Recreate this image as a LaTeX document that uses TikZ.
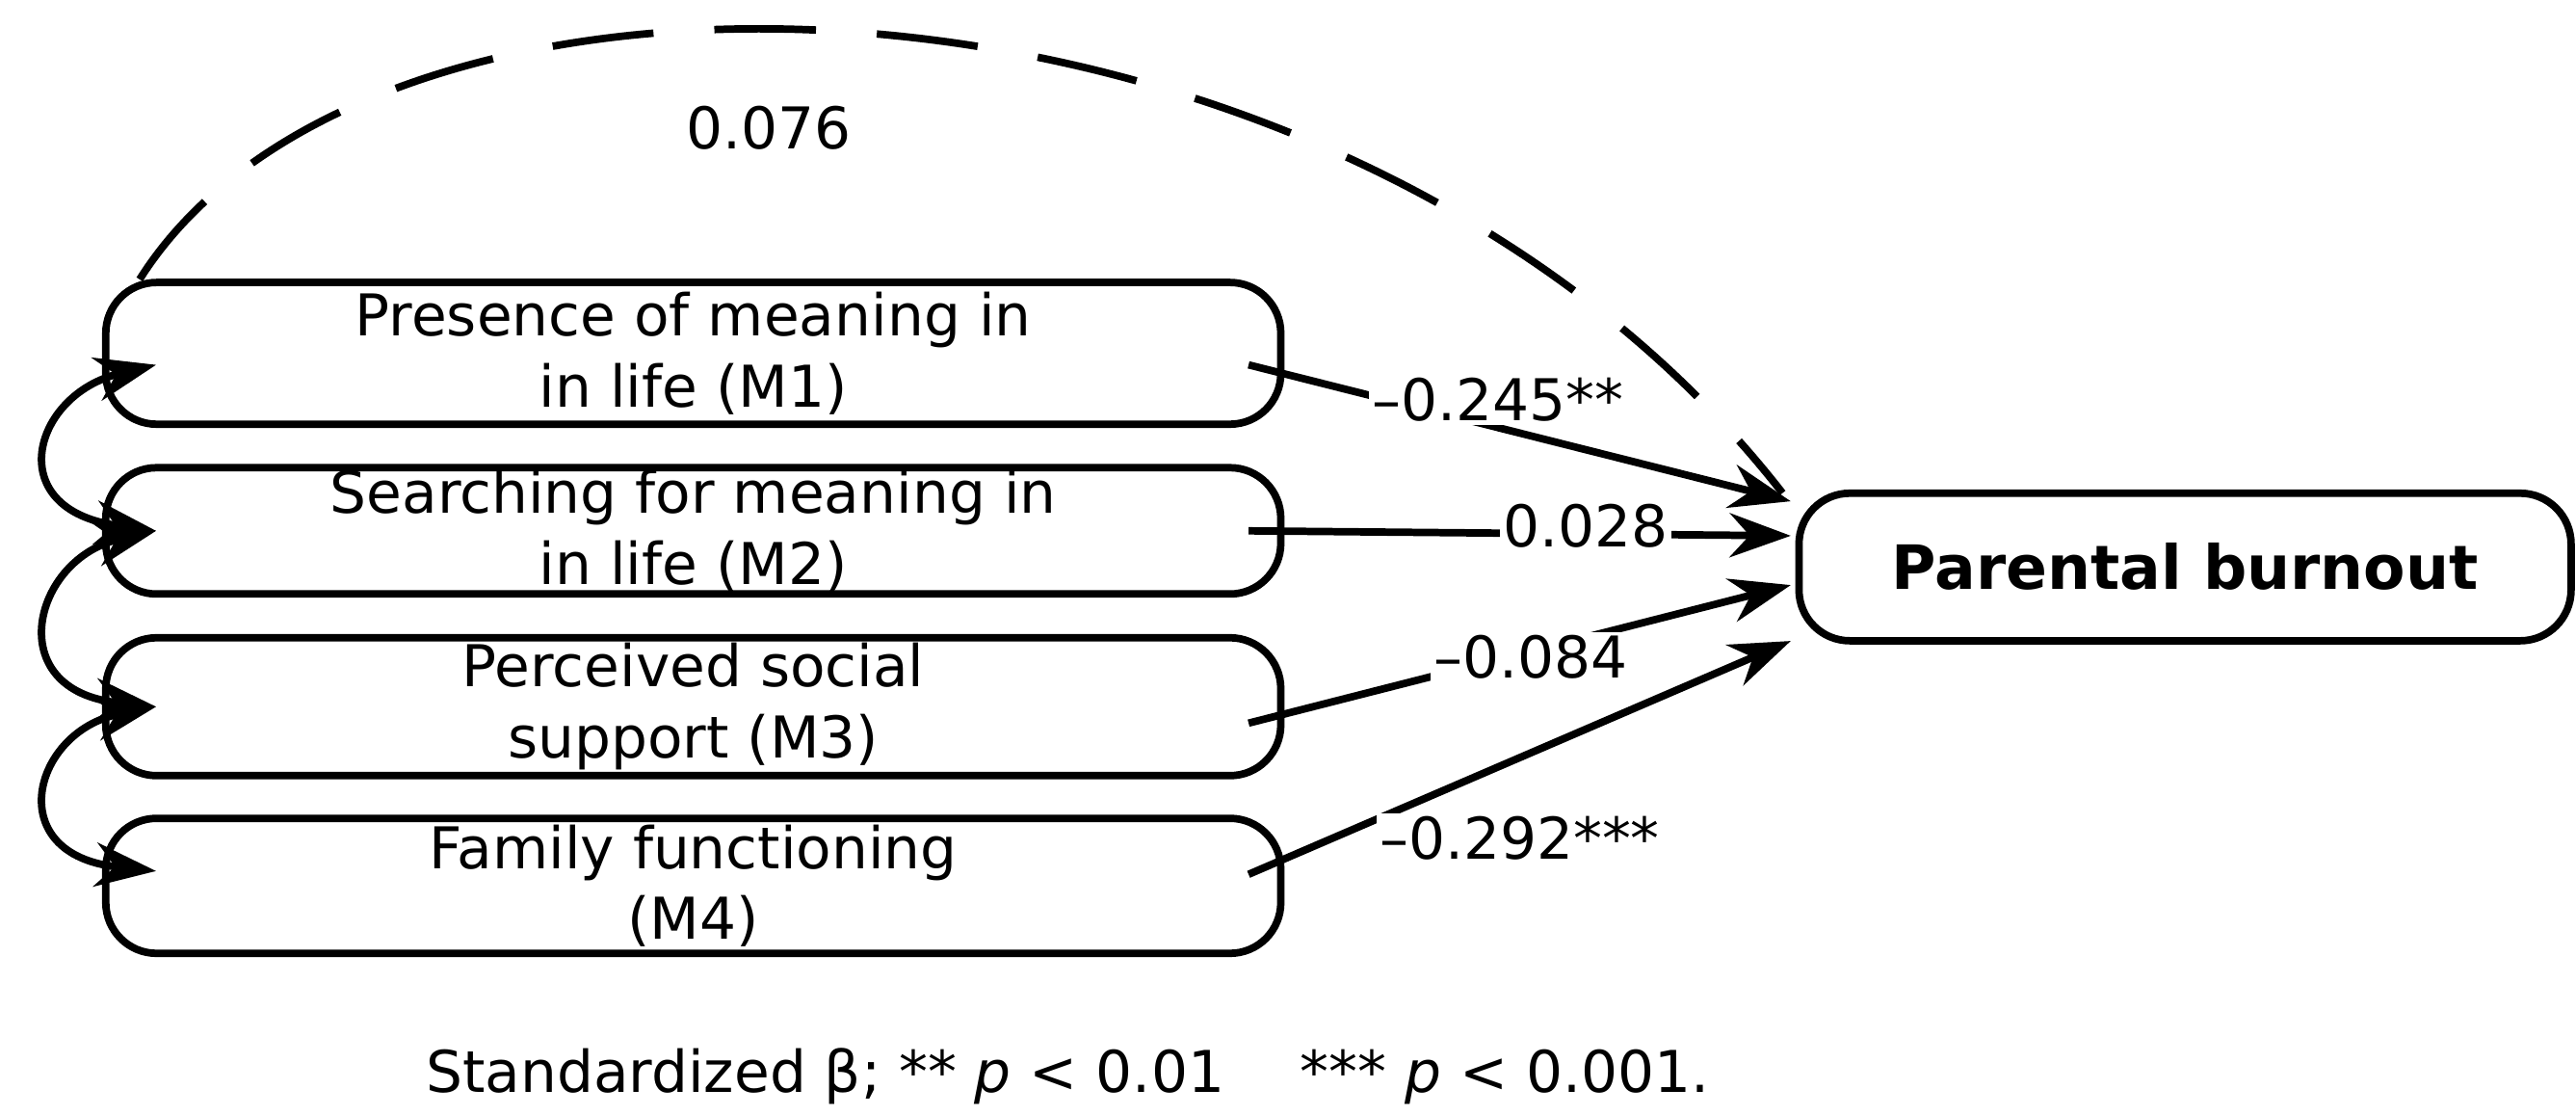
\documentclass[tikz,border=0pt]{standalone}
\usepackage{fontspec}
\setmainfont{DejaVu Sans}
\usetikzlibrary{arrows.meta}
\begin{document}
\begin{tikzpicture}[x=0.01705cm,y=-0.01705cm,
  box/.style={draw,line width=2.2pt,rounded corners=15pt,inner sep=0pt,align=center,font=\fontsize{17}{21}\selectfont},
  path/.style={line width=2.2pt,-{Stealth[length=18pt,width=13pt]}},
  lab/.style={fill=white,inner sep=1pt,font=\fontsize{17}{21}\selectfont},
  cov/.style={line width=2.2pt,{Stealth[length=18pt,width=13pt]}-{Stealth[length=18pt,width=13pt]}}]
\useasboundingbox (0,0) rectangle (1568,679);
\node[box,minimum width=12.19cm,minimum height=1.47cm] (m1) at (422,215) {Presence of meaning in\\in life (M1)};
\node[box,minimum width=12.19cm,minimum height=1.31cm] (m2) at (422,323) {Searching for meaning in\\in life (M2)};
\node[box,minimum width=12.19cm,minimum height=1.43cm] (m3) at (422,430) {Perceived social\\support (M3)};
\node[box,minimum width=12.19cm,minimum height=1.40cm] (m4) at (422,539) {Family functioning\\(M4)};
\node[box,minimum width=8.01cm,minimum height=1.53cm,font=\fontsize{18}{21}\selectfont\bfseries] (pb) at (1330,345) {Parental burnout};
\coordinate (t1) at (1090,305);
\coordinate (t2) at (1090,326);
\coordinate (t3) at (1090,356);
\coordinate (t4) at (1090,390);
\coordinate (s0) at (85,170);
\draw[line width=2.2pt,dash pattern=on 30pt off 18pt] (s0) .. controls (230,-60) and (820,-40) .. (1085,300);
\node[lab,fill=none] at (468,78) {0.076};
\coordinate (a1) at (760,222);
\coordinate (a2) at (760,323);
\coordinate (a3) at (760,440);
\coordinate (a4) at (760,532);
\draw[path] (a1) -- (t1);
\node[lab] at (912,243) {–0.245**};
\draw[path] (a2) -- (t2);
\node[lab] at (965,320) {0.028};
\draw[path] (a3) -- (t3);
\node[lab] at (932,400) {–0.084};
\draw[path] (a4) -- (t4);
\node[lab] at (925,510) {–0.292***};
\coordinate (l1) at (95,222);
\coordinate (l2) at (95,323);
\coordinate (l3) at (95,430);
\coordinate (l4) at (95,530);
\draw[cov] (l1) .. controls (20,240) and (0,310) .. (l2);
\draw[cov] (l2) .. controls (20,340) and (0,420) .. (l3);
\draw[cov] (l3) .. controls (20,445) and (0,520) .. (l4);
\node[font=\fontsize{17}{21}\selectfont] at (650,655) {Standardized β; ** \textit{p} < 0.01 \quad *** \textit{p} < 0.001.};
\end{tikzpicture}
\end{document}
